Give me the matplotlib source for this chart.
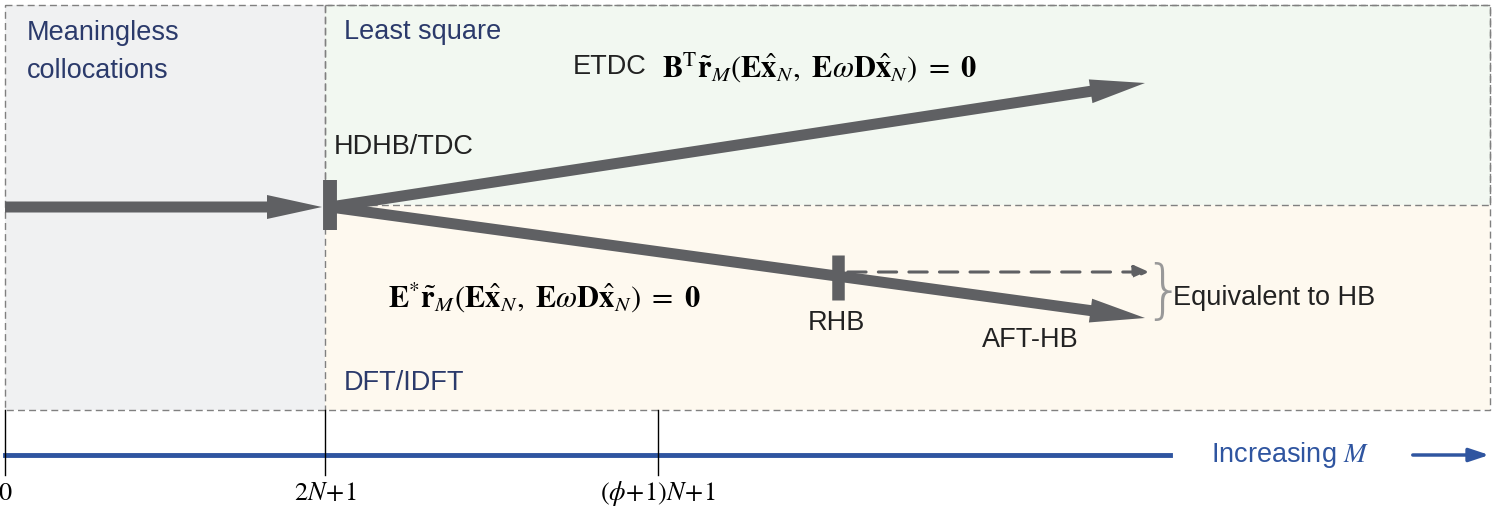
import matplotlib.pyplot as plt
from matplotlib.patches import Rectangle, FancyArrow

# key positions on the M axis (pixel-like layout units)
tick_x = [5, 325, 658]
tick_labels = ["0", r"$2N\!+\!1$", r"$(\phi\!+\!1)N\!+\!1$"]
branch_y = 207
etdc_end = (1145, 83)
aft_end = (1145, 318)
rhb_x = 838

DARK = "#5f6063"
BLUE = "#2f55a0"
NAVY = "#2b3a6b"

fig = plt.figure(figsize=(15, 5.12), dpi=100)
ax = fig.add_axes([0, 0, 1, 1])
ax.set_xlim(0, 1500)
ax.set_ylim(512, 0)
ax.axis("off")
plt.rcParams["mathtext.fontset"] = "stix"

# background regions
ax.add_patch(Rectangle((5, 5), 320, 405, fc="#f0f1f2", ec="none"))
ax.add_patch(Rectangle((325, 5), 1165, 200, fc="#f2f8f1", ec="none"))
ax.add_patch(Rectangle((325, 205), 1165, 205, fc="#fef9ef", ec="none"))
for (x, y, w, h) in [(5, 5, 1485, 405), (325, 5, 1165, 200)]:
    ax.add_patch(Rectangle((x, y), w, h, fc="none", ec="#808080", lw=1, ls=(0, (5, 3))))
ax.plot([325, 325], [5, 410], color="#808080", lw=1, ls=(0, (5, 3)))

# M axis
ax.plot([5, 1170], [455, 455], color=BLUE, lw=3.5)
ax.annotate("", xy=(1492, 455), xytext=(1410, 455),
            arrowprops=dict(arrowstyle="-|>,head_length=1.2,head_width=0.4", color=BLUE, lw=2.5))
ax.text(1290, 455, r"Increasing $M$", color=BLUE, fontsize=19.5, ha="center", va="center",
        family="Liberation Sans")
for x, lab in zip(tick_x, tick_labels):
    ax.plot([x, x], [410, 475], color="black", lw=1)
    ax.text(x, 494, lab, fontsize=19, ha="center", va="center", family="STIXGeneral")

# branch arrows
def thick_arrow(x0, y0, x1, y1):
    ax.add_patch(FancyArrow(x0, y0, x1 - x0, y1 - y0, width=11, head_width=24, head_length=55,
                            length_includes_head=True, fc=DARK, ec="none"))

thick_arrow(5, branch_y, 322, branch_y)
thick_arrow(330, branch_y, *etdc_end)
thick_arrow(330, branch_y, *aft_end)
ax.plot([330, 330], [180, 230], color=DARK, lw=10, solid_capstyle="butt")
ax.plot([rhb_x, rhb_x], [255, 300], color=DARK, lw=9, solid_capstyle="butt")
ax.annotate("", xy=(1152, 272), xytext=(845, 272),
            arrowprops=dict(arrowstyle="-|>,head_length=0.9,head_width=0.4", color=DARK,
                            lw=2.2, ls=(0, (6, 4))))

# brace
ax.text(1163, 293, "}", fontsize=46, ha="center", va="center", color="#999999", family="DejaVu Sans",
        fontweight="light")

txt = dict(fontsize=19.5, family="Liberation Sans", va="center")
ax.text(27, 33, "Meaningless", color=NAVY, **txt)
ax.text(27, 71, "collocations", color=NAVY, **txt)
ax.text(344, 32, "Least square", color=NAVY, **txt)
ax.text(344, 383, "DFT/IDFT", color=NAVY, **txt)
ax.text(334, 147, "HDHB/TDC", color="#222222", **txt)
ax.text(573, 67, "ETDC", color="#222222", **txt)
ax.text(836, 323, "RHB", color="#222222", ha="center", fontsize=19.5, family="Liberation Sans", va="center")
ax.text(1030, 340, "AFT-HB", color="#222222", ha="center", fontsize=19.5, family="Liberation Sans", va="center")
ax.text(1173, 298, "Equivalent to HB", color="#222222", **txt)
ax.text(662, 67, r"$\mathbf{B}^{\mathrm{T}}\tilde{\mathbf{r}}_M(\mathbf{E}\hat{\mathbf{x}}_N,\ \mathbf{E}\omega\mathbf{D}\hat{\mathbf{x}}_N)\ =\ \mathbf{0}$",
        fontsize=22, va="center")
ax.text(388, 297, r"$\mathbf{E}^{*}\tilde{\mathbf{r}}_M(\mathbf{E}\hat{\mathbf{x}}_N,\ \mathbf{E}\omega\mathbf{D}\hat{\mathbf{x}}_N)\ =\ \mathbf{0}$",
        fontsize=22, va="center")

fig.savefig("out.png", dpi=100)
